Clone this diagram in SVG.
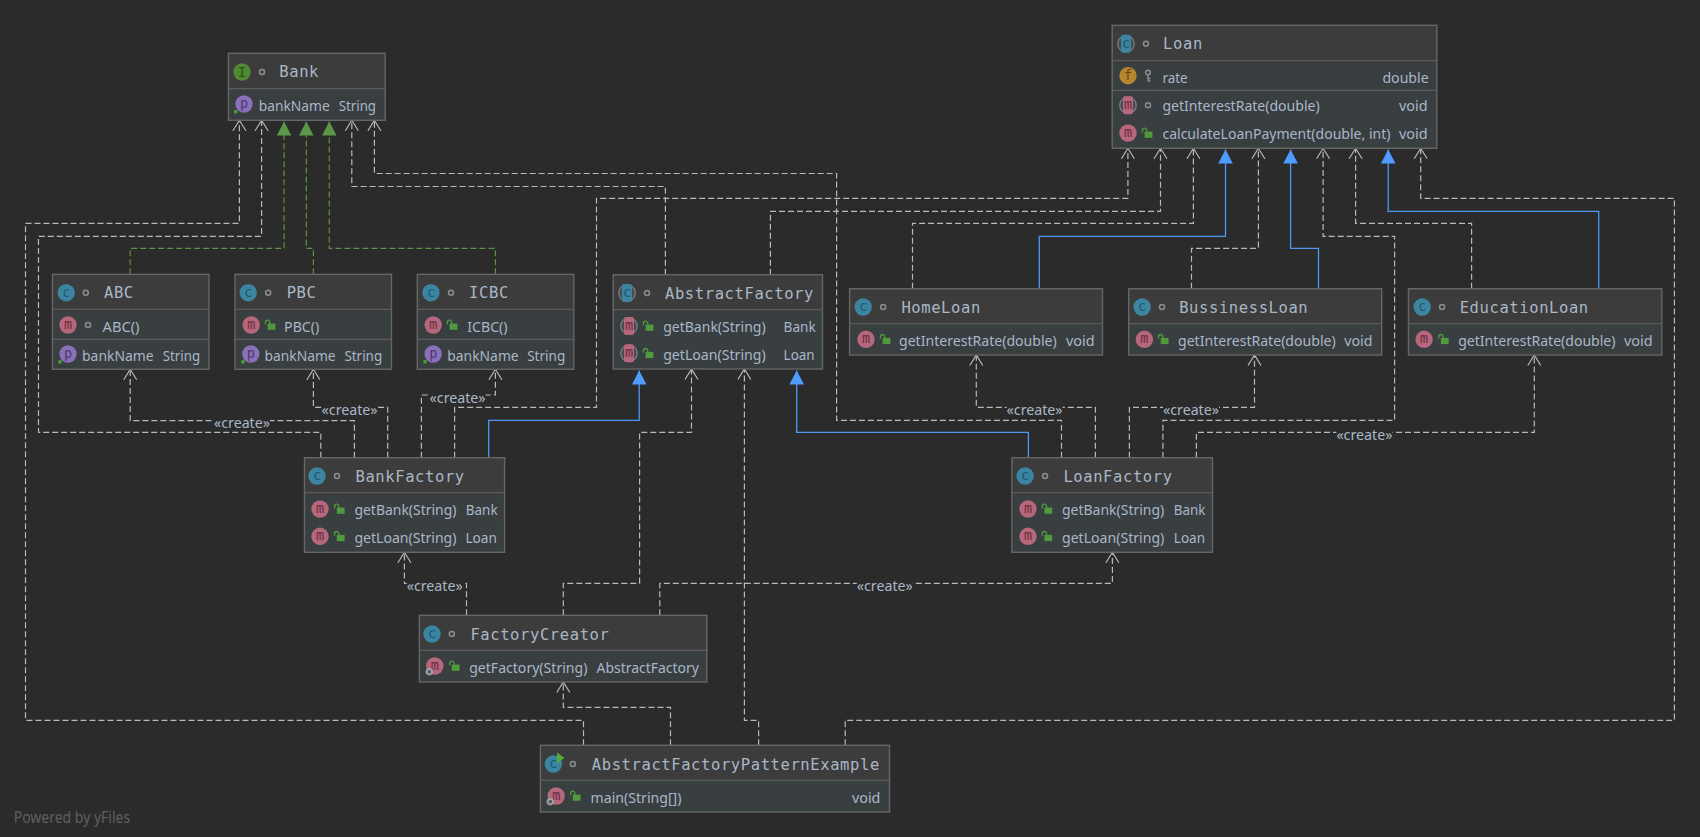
<svg xmlns="http://www.w3.org/2000/svg" width="1700" height="837" viewBox="0 0 1700 837">
<style>
.head{fill:#3c3c3c}
.box{fill:#393e41}
.frame{fill:none;stroke:#666;stroke-width:1.4}
.div{stroke:#5c5c5c;stroke-width:1.2}
.t{font-family:"DejaVu Sans Mono",monospace;font-size:15.5px;letter-spacing:.6px;fill:#a9b7c6}
.b{font-family:"Noto Sans",sans-serif;font-size:15.2px;fill:#a9b7c6}
.b.s{font-size:14.5px}
.l{font-family:"Noto Sans",sans-serif;font-size:15.2px;fill:#a9b7c6}
.lbg{fill:#2b2b2b}
.w{font-family:"Noto Sans",sans-serif;font-size:15.5px;fill:#5f5f5f}
.il{font-family:"DejaVu Sans Mono",monospace;font-size:13.5px;text-anchor:middle}
.cc{fill:#3b85a1}.mm{fill:#b5677c}.pp{fill:#8a70b8}.ff{fill:#b5862f}.ii{fill:#4f8a30}
.ilc{fill:#1f5870}.ilm{fill:#6b2c3e}.ilp{fill:#483872}.ilf{fill:#66480f}.ili{fill:#27501a}
.ring{fill:#4a4d4f;stroke:#7d8082;stroke-width:1.2}
.dash{fill:none;stroke:#b9b9b9;stroke-width:1.2;stroke-dasharray:6 3;marker-end:url(#open)}
.impl{fill:none;stroke:#5c9148;stroke-width:1.2;stroke-dasharray:6 3;marker-end:url(#tg)}
.ext{fill:none;stroke:#4f97f5;stroke-width:1.3;marker-end:url(#tb)}
</style>
<defs>
<marker id="open" markerUnits="userSpaceOnUse" markerWidth="16" markerHeight="16" refX="13" refY="8" orient="auto"><path d="M2.5 1.5L13 8L2.5 14.5" fill="none" stroke="#b9b9b9" stroke-width="1.2"/></marker>
<marker id="tg" markerUnits="userSpaceOnUse" markerWidth="16" markerHeight="16" refX="15" refY="8" orient="auto"><path d="M1 0.7L15 8L1 15.3Z" fill="#5c9648"/></marker>
<marker id="tb" markerUnits="userSpaceOnUse" markerWidth="16" markerHeight="16" refX="15" refY="8" orient="auto"><path d="M1 0.7L15 8L1 15.3Z" fill="#4f9bff"/></marker>
<circle id="dot" r="2.5" fill="none" stroke="#8b8e90" stroke-width="1.5"/>
<g id="lock"><rect x="-2.4" y="-1.4" width="7.8" height="6.2" fill="#4f9a3c"/><path d="M-4.6 -0.6V-2.6a2.2 2.2 0 0 1 4.4 0V-1" fill="none" stroke="#4f9a3c" stroke-width="1.3"/></g>
<circle id="gd" r="2" fill="#3fa02c"/>
<g id="gear"><circle r="2.8" fill="#5a5e62" stroke="#a4a7aa" stroke-width="1.8"/></g>
</defs>
<rect width="1700" height="837" fill="#2b2b2b"/>

<g id="connectors">
<path class="dash" d="M583.5 745.3V720.3H25.5V223.3H239.4V120.3"/>
<path class="dash" d="M320.8 457.7V432.3H38.5V236.3H261.6V120.3"/>
<path class="impl" d="M130.2 274.3V248.3H284.1V121.5"/>
<path class="impl" d="M313.4 274.3V248.3H306.3V121.5"/>
<path class="impl" d="M495.4 274.3V248.3H329.3V121.5"/>
<path class="dash" d="M665.4 274.7V186.5H351.8V120.3"/>
<path class="dash" d="M1061.5 457.7V420.3H836.6V173.5H374.4V120.3"/>
<path class="dash" d="M454.6 457.7V407.3H596.5V198.3H1127.9V148.3"/>
<path class="dash" d="M770.4 274.7V211.3H1160.5V148.3"/>
<path class="dash" d="M912.5 288.7V223.3H1193.4V148.3"/>
<path class="ext" d="M1039.3 288.7V236.3H1225.5V149.5"/>
<path class="dash" d="M1191.5 288.7V248.3H1258.4V148.3"/>
<path class="ext" d="M1318.5 288.7V248.3H1290.6V149.5"/>
<path class="dash" d="M1162.9 457.7V420.3H1394.6V236.3H1323.1V148.3"/>
<path class="dash" d="M1471.6 288.7V223.3H1355.6V148.3"/>
<path class="ext" d="M1598.7 288.7V211.3H1388.2V149.5"/>
<path class="dash" d="M845.2 745.3V720.3H1674.4V198.3H1420.7V148.3"/>
<path class="dash" d="M1095.4 457.7V407.3H976.3V355"/>
<path class="dash" d="M1129.4 457.7V407.3H1254.5V355"/>
<path class="dash" d="M1196.4 457.7V432.3H1534.3V355"/>
<path class="ext" d="M1028.4 457.7V432.3H796.7V370.5"/>
<path class="ext" d="M488.7 457.7V420.3H639.2V370.5"/>
<path class="dash" d="M563.3 615.3V583.3H639.6V432.3H691.5V369"/>
<path class="dash" d="M758.6 745.3V720.3H744.4V369"/>
<path class="dash" d="M354.4 457.7V420.7H130.2V369.3"/>
<path class="dash" d="M387.7 457.7V407.3H313.4V369.3"/>
<path class="dash" d="M421.4 457.7V395H495.4V369.3"/>
<path class="dash" d="M466.5 615.3V583.3H404.4V552.3"/>
<path class="dash" d="M659.8 615.3V583.3H1112.4V552.3"/>
<path class="dash" d="M670.5 745.3V707.3H563.3V682"/>
<g id="labels">
<rect class="lbg" x="214" y="416" width="56" height="14"/><text class="l" x="214" y="428" textLength="56" lengthAdjust="spacingAndGlyphs">«create»</text>
<rect class="lbg" x="321.6" y="403" width="56" height="14"/><text class="l" x="321.6" y="415" textLength="56" lengthAdjust="spacingAndGlyphs">«create»</text>
<rect class="lbg" x="429.6" y="391" width="56" height="14"/><text class="l" x="429.6" y="403" textLength="56" lengthAdjust="spacingAndGlyphs">«create»</text>
<rect class="lbg" x="406.7" y="579" width="56" height="14"/><text class="l" x="406.7" y="591" textLength="56" lengthAdjust="spacingAndGlyphs">«create»</text>
<rect class="lbg" x="856.8" y="579" width="56" height="14"/><text class="l" x="856.8" y="591" textLength="56" lengthAdjust="spacingAndGlyphs">«create»</text>
<rect class="lbg" x="1006.6" y="403" width="56" height="14"/><text class="l" x="1006.6" y="415" textLength="56" lengthAdjust="spacingAndGlyphs">«create»</text>
<rect class="lbg" x="1163" y="403" width="56" height="14"/><text class="l" x="1163" y="415" textLength="56" lengthAdjust="spacingAndGlyphs">«create»</text>
<rect class="lbg" x="1336.4" y="428" width="56" height="14"/><text class="l" x="1336.4" y="440" textLength="56" lengthAdjust="spacingAndGlyphs">«create»</text>
</g>
</g>

<g id="Bank">
<rect class="head" x="228.5" y="53.3" width="156.7" height="35.4"/><rect class="box" x="228.5" y="88.7" width="156.7" height="31.6"/>
<line class="div" x1="228.5" x2="385.2" y1="88.7" y2="88.7"/><rect class="frame" x="228.5" y="53.3" width="156.7" height="67"/>
<circle class="ii" cx="242" cy="72" r="8.7"/><text class="il ili" x="242" y="76.5">I</text><use href="#dot" x="262" y="72"/>
<text class="t" x="279.3" y="76.7">Bank</text>
<circle class="pp" cx="244" cy="104" r="8.7"/><text class="il ilp" x="244" y="108">p</text><use href="#gd" x="235.7" y="111.7"/>
<text class="b" x="258.7" y="111" textLength="71" lengthAdjust="spacingAndGlyphs">bankName</text><text class="b" x="338.7" y="111" textLength="37.3" lengthAdjust="spacingAndGlyphs">String</text>
</g>

<g id="ABC">
<rect class="head" x="52.5" y="274.3" width="156.5" height="35"/><rect class="box" x="52.5" y="309.3" width="156.5" height="60"/>
<line class="div" x1="52.5" x2="209" y1="309.3" y2="309.3"/><line class="div" x1="52.5" x2="209" y1="339.3" y2="339.3"/><rect class="frame" x="52.5" y="274.3" width="156.5" height="95"/>
<circle class="cc" cx="66.2" cy="292.7" r="8.7"/><text class="il ilc" x="66.2" y="296.7">c</text><use href="#dot" x="85.8" y="292.7"/>
<text class="t" x="104" y="298.3">ABC</text>
<circle class="mm" cx="68" cy="325" r="8.7"/><text class="il ilm" x="68" y="329">m</text><use href="#dot" x="88" y="325"/>
<text class="b" x="102.5" y="331.7" textLength="37" lengthAdjust="spacingAndGlyphs">ABC()</text>
<circle class="pp" cx="68" cy="354" r="8.7"/><text class="il ilp" x="68" y="358">p</text><use href="#gd" x="60" y="361.7"/>
<text class="b" x="82.1" y="360.7" textLength="71.4" lengthAdjust="spacingAndGlyphs">bankName</text><text class="b" x="162.8" y="360.7" textLength="37.3" lengthAdjust="spacingAndGlyphs">String</text>
</g>

<g id="PBC">
<rect class="head" x="235" y="274.3" width="156.5" height="35"/><rect class="box" x="235" y="309.3" width="156.5" height="60"/>
<line class="div" x1="235" x2="391.5" y1="309.3" y2="309.3"/><line class="div" x1="235" x2="391.5" y1="339.3" y2="339.3"/><rect class="frame" x="235" y="274.3" width="156.5" height="95"/>
<circle class="cc" cx="248.2" cy="292.7" r="8.7"/><text class="il ilc" x="248.2" y="296.7">c</text><use href="#dot" x="268.2" y="292.7"/>
<text class="t" x="286.7" y="298.3">PBC</text>
<circle class="mm" cx="251.2" cy="325" r="8.7"/><text class="il ilm" x="251.2" y="329">m</text><use href="#lock" x="270" y="325"/>
<text class="b" x="284.1" y="331.7" textLength="35.2" lengthAdjust="spacingAndGlyphs">PBC()</text>
<circle class="pp" cx="250.8" cy="354" r="8.7"/><text class="il ilp" x="250.8" y="358">p</text><use href="#gd" x="243" y="361.7"/>
<text class="b" x="264.5" y="360.7" textLength="71.1" lengthAdjust="spacingAndGlyphs">bankName</text><text class="b" x="344.4" y="360.7" textLength="37.8" lengthAdjust="spacingAndGlyphs">String</text>
</g>

<g id="ICBC">
<rect class="head" x="417.3" y="274.3" width="156.5" height="35"/><rect class="box" x="417.3" y="309.3" width="156.5" height="60"/>
<line class="div" x1="417.3" x2="573.8" y1="309.3" y2="309.3"/><line class="div" x1="417.3" x2="573.8" y1="339.3" y2="339.3"/><rect class="frame" x="417.3" y="274.3" width="156.5" height="95"/>
<circle class="cc" cx="431" cy="292.7" r="8.7"/><text class="il ilc" x="431" y="296.7">c</text><use href="#dot" x="451" y="292.7"/>
<text class="t" x="469.1" y="298.3">ICBC</text>
<circle class="mm" cx="433.2" cy="325" r="8.7"/><text class="il ilm" x="433.2" y="329">m</text><use href="#lock" x="452" y="325"/>
<text class="b" x="467.3" y="331.7" textLength="40.3" lengthAdjust="spacingAndGlyphs">ICBC()</text>
<circle class="pp" cx="433.2" cy="354" r="8.7"/><text class="il ilp" x="433.2" y="358">p</text><use href="#gd" x="425" y="361.7"/>
<text class="b" x="447.3" y="360.7" textLength="71.4" lengthAdjust="spacingAndGlyphs">bankName</text><text class="b" x="527.2" y="360.7" textLength="38.1" lengthAdjust="spacingAndGlyphs">String</text>
</g>

<g id="AbstractFactory">
<rect class="head" x="613.2" y="274.7" width="209.3" height="35"/><rect class="box" x="613.2" y="309.7" width="209.3" height="59.3"/>
<line class="div" x1="613.2" x2="822.5" y1="309.7" y2="309.7"/><rect class="frame" x="613.2" y="274.7" width="209.3" height="94.3"/>
<circle class="ring" cx="627" cy="293" r="8.3"/><rect class="cc" x="622" y="284" width="10" height="18" rx="2"/><text class="il ilc" x="627" y="297">c</text><use href="#dot" x="647" y="293"/>
<text class="t" x="665" y="298.7">AbstractFactory</text>
<circle class="ring" cx="629" cy="326" r="8.3"/><rect class="mm" x="624" y="317" width="10" height="18" rx="2"/><text class="il ilm" x="629" y="330">m</text><use href="#lock" x="648" y="326"/>
<text class="b" x="663.2" y="332.3" textLength="102.5" lengthAdjust="spacingAndGlyphs">getBank(String)</text><text class="b" x="783.6" y="332.3" textLength="32.1" lengthAdjust="spacingAndGlyphs">Bank</text>
<circle class="ring" cx="629" cy="353.3" r="8.3"/><rect class="mm" x="624" y="344.3" width="10" height="18" rx="2"/><text class="il ilm" x="629" y="357.3">m</text><use href="#lock" x="648" y="353.3"/>
<text class="b" x="663.2" y="359.6" textLength="102.5" lengthAdjust="spacingAndGlyphs">getLoan(String)</text><text class="b" x="783.6" y="359.6" textLength="31" lengthAdjust="spacingAndGlyphs">Loan</text>
</g>

<g id="Loan">
<rect class="head" x="1112.2" y="25.3" width="324.6" height="35.4"/><rect class="box" x="1112.2" y="60.7" width="324.6" height="87.6"/>
<line class="div" x1="1112.2" x2="1436.8" y1="60.7" y2="60.7"/><line class="div" x1="1112.2" x2="1436.8" y1="90.3" y2="90.3"/><rect class="frame" x="1112.2" y="25.3" width="324.6" height="123"/>
<circle class="ring" cx="1126" cy="43.7" r="8.3"/><rect class="cc" x="1121" y="34.7" width="10" height="18" rx="2"/><text class="il ilc" x="1126" y="47.7">c</text><use href="#dot" x="1146" y="43.7"/>
<text class="t" x="1163.1" y="49.4">Loan</text>
<circle class="ff" cx="1128" cy="75.7" r="8.7"/><text class="il ilf" x="1128" y="79.7">f</text>
<g fill="none" stroke="#8b8e90" stroke-width="1.5"><circle cx="1148" cy="72.5" r="2.3"/><path d="M1148 75V81M1148 78.5H1150.5M1148 81H1150.5"/></g>
<text class="b" x="1162.4" y="82.7" textLength="25.2" lengthAdjust="spacingAndGlyphs">rate</text><text class="b" x="1382.4" y="82.7" textLength="46.3" lengthAdjust="spacingAndGlyphs">double</text>
<circle class="ring" cx="1128" cy="105.3" r="8.3"/><rect class="mm" x="1123" y="96.3" width="10" height="18" rx="2"/><text class="il ilm" x="1128" y="109.3">m</text><use href="#dot" x="1148" y="105.3"/>
<text class="b s" x="1162.4" y="111" textLength="157.3" lengthAdjust="spacingAndGlyphs">getInterestRate(double)</text><text class="b" x="1398.9" y="111" textLength="28.7" lengthAdjust="spacingAndGlyphs">void</text>
<circle class="mm" cx="1128" cy="133" r="8.7"/><text class="il ilm" x="1128" y="137">m</text><use href="#lock" x="1147" y="133"/>
<text class="b s" x="1162.4" y="139" textLength="228.1" lengthAdjust="spacingAndGlyphs">calculateLoanPayment(double, int)</text><text class="b" x="1398.9" y="139" textLength="28.7" lengthAdjust="spacingAndGlyphs">void</text>
</g>

<g id="HomeLoan">
<rect class="head" x="849.6" y="288.7" width="252.9" height="35"/><rect class="box" x="849.6" y="323.7" width="252.9" height="31.3"/>
<line class="div" x1="849.6" x2="1102.5" y1="323.7" y2="323.7"/><rect class="frame" x="849.6" y="288.7" width="252.9" height="66.3"/>
<circle class="cc" cx="863.2" cy="307" r="8.7"/><text class="il ilc" x="863.2" y="311">c</text><use href="#dot" x="883.2" y="307"/>
<text class="t" x="901.4" y="312.7">HomeLoan</text>
<circle class="mm" cx="866" cy="339.3" r="8.7"/><text class="il ilm" x="866" y="343.3">m</text><use href="#lock" x="885" y="339.3"/>
<text class="b s" x="899" y="346" textLength="157.8" lengthAdjust="spacingAndGlyphs">getInterestRate(double)</text><text class="b" x="1066" y="346" textLength="28.6" lengthAdjust="spacingAndGlyphs">void</text>
</g>

<g id="BussinessLoan">
<rect class="head" x="1128.7" y="288.7" width="253" height="35"/><rect class="box" x="1128.7" y="323.7" width="253" height="31.3"/>
<line class="div" x1="1128.7" x2="1381.7" y1="323.7" y2="323.7"/><rect class="frame" x="1128.7" y="288.7" width="253" height="66.3"/>
<circle class="cc" cx="1142.1" cy="307" r="8.7"/><text class="il ilc" x="1142.1" y="311">c</text><use href="#dot" x="1162" y="307"/>
<text class="t" x="1179.2" y="312.7">BussinessLoan</text>
<circle class="mm" cx="1144.4" cy="339.3" r="8.7"/><text class="il ilm" x="1144.4" y="343.3">m</text><use href="#lock" x="1163.1" y="339.3"/>
<text class="b s" x="1178" y="346" textLength="157.7" lengthAdjust="spacingAndGlyphs">getInterestRate(double)</text><text class="b" x="1344.2" y="346" textLength="28.3" lengthAdjust="spacingAndGlyphs">void</text>
</g>

<g id="EducationLoan">
<rect class="head" x="1408.5" y="288.7" width="253.3" height="35"/><rect class="box" x="1408.5" y="323.7" width="253.3" height="31.3"/>
<line class="div" x1="1408.5" x2="1661.8" y1="323.7" y2="323.7"/><rect class="frame" x="1408.5" y="288.7" width="253.3" height="66.3"/>
<circle class="cc" cx="1422.2" cy="307" r="8.7"/><text class="il ilc" x="1422.2" y="311">c</text><use href="#dot" x="1442.1" y="307"/>
<text class="t" x="1459.7" y="312.7">EducationLoan</text>
<circle class="mm" cx="1424.1" cy="339.3" r="8.7"/><text class="il ilm" x="1424.1" y="343.3">m</text><use href="#lock" x="1443.3" y="339.3"/>
<text class="b s" x="1458.2" y="346" textLength="157.3" lengthAdjust="spacingAndGlyphs">getInterestRate(double)</text><text class="b" x="1623.9" y="346" textLength="28.7" lengthAdjust="spacingAndGlyphs">void</text>
</g>

<g id="BankFactory">
<rect class="head" x="304.5" y="457.7" width="200.1" height="35"/><rect class="box" x="304.5" y="492.7" width="200.1" height="59.6"/>
<line class="div" x1="304.5" x2="504.6" y1="492.7" y2="492.7"/><rect class="frame" x="304.5" y="457.7" width="200.1" height="94.6"/>
<circle class="cc" cx="317" cy="476" r="8.7"/><text class="il ilc" x="317" y="480">c</text><use href="#dot" x="337" y="476"/>
<text class="t" x="355.5" y="481.7">BankFactory</text>
<circle class="mm" cx="320" cy="509" r="8.7"/><text class="il ilm" x="320" y="513">m</text><use href="#lock" x="339.2" y="509"/>
<text class="b" x="354.4" y="515" textLength="102.1" lengthAdjust="spacingAndGlyphs">getBank(String)</text><text class="b" x="465.8" y="515" textLength="31.8" lengthAdjust="spacingAndGlyphs">Bank</text>
<circle class="mm" cx="320" cy="536.3" r="8.7"/><text class="il ilm" x="320" y="540.3">m</text><use href="#lock" x="339.2" y="536.3"/>
<text class="b" x="354.4" y="543.3" textLength="102.1" lengthAdjust="spacingAndGlyphs">getLoan(String)</text><text class="b" x="465.4" y="543.3" textLength="31.5" lengthAdjust="spacingAndGlyphs">Loan</text>
</g>

<g id="LoanFactory">
<rect class="head" x="1011.9" y="457.7" width="200.6" height="35"/><rect class="box" x="1011.9" y="492.7" width="200.6" height="59.6"/>
<line class="div" x1="1011.9" x2="1212.5" y1="492.7" y2="492.7"/><rect class="frame" x="1011.9" y="457.7" width="200.6" height="94.6"/>
<circle class="cc" cx="1025.1" cy="476" r="8.7"/><text class="il ilc" x="1025.1" y="480">c</text><use href="#dot" x="1045" y="476"/>
<text class="t" x="1063.4" y="481.7">LoanFactory</text>
<circle class="mm" cx="1028" cy="509" r="8.7"/><text class="il ilm" x="1028" y="513">m</text><use href="#lock" x="1046.8" y="509"/>
<text class="b" x="1062" y="515" textLength="102.3" lengthAdjust="spacingAndGlyphs">getBank(String)</text><text class="b" x="1173.8" y="515" textLength="31.6" lengthAdjust="spacingAndGlyphs">Bank</text>
<circle class="mm" cx="1028" cy="536.3" r="8.7"/><text class="il ilm" x="1028" y="540.3">m</text><use href="#lock" x="1046.8" y="536.3"/>
<text class="b" x="1062" y="543.3" textLength="102.3" lengthAdjust="spacingAndGlyphs">getLoan(String)</text><text class="b" x="1173.8" y="543.3" textLength="31.2" lengthAdjust="spacingAndGlyphs">Loan</text>
</g>

<g id="FactoryCreator">
<rect class="head" x="419.4" y="615.3" width="287.4" height="35"/><rect class="box" x="419.4" y="650.3" width="287.4" height="31.7"/>
<line class="div" x1="419.4" x2="706.8" y1="650.3" y2="650.3"/><rect class="frame" x="419.4" y="615.3" width="287.4" height="66.7"/>
<circle class="cc" cx="432" cy="634" r="8.7"/><text class="il ilc" x="432" y="638">c</text><use href="#dot" x="451.8" y="634"/>
<text class="t" x="470.4" y="639.7">FactoryCreator</text>
<circle class="mm" cx="434.8" cy="666" r="8.7"/><text class="il ilm" x="434.8" y="670">m</text><use href="#gear" x="429.3" y="671.7"/><use href="#lock" x="454.2" y="666"/>
<text class="b" x="469.2" y="673.3" textLength="118.2" lengthAdjust="spacingAndGlyphs">getFactory(String)</text><text class="b" x="596.5" y="673.3" textLength="102.4" lengthAdjust="spacingAndGlyphs">AbstractFactory</text>
</g>

<g id="AbstractFactoryPatternExample">
<rect class="head" x="540.4" y="745.3" width="349.1" height="35"/><rect class="box" x="540.4" y="780.3" width="349.1" height="31.7"/>
<line class="div" x1="540.4" x2="889.5" y1="780.3" y2="780.3"/><rect class="frame" x="540.4" y="745.3" width="349.1" height="66.7"/>
<circle class="cc" cx="553.4" cy="764" r="8.7"/><text class="il ilc" x="553.4" y="768">c</text><path d="M557 752.5L564.5 758L557 763.5Z" fill="#4fae36"/><use href="#dot" x="572.8" y="764"/>
<text class="t" x="591.8" y="769.7">AbstractFactoryPatternExample</text>
<circle class="mm" cx="556.2" cy="796" r="8.7"/><text class="il ilm" x="556.2" y="800">m</text><use href="#gear" x="550.3" y="801.7"/><use href="#lock" x="575.2" y="796"/>
<text class="b" x="590.6" y="803.3" textLength="90.9" lengthAdjust="spacingAndGlyphs">main(String[])</text><text class="b" x="852" y="803.3" textLength="28.4" lengthAdjust="spacingAndGlyphs">void</text>
</g>

<text class="w" x="13.7" y="822.7" textLength="116.5" lengthAdjust="spacingAndGlyphs">Powered by yFiles</text>
</svg>
